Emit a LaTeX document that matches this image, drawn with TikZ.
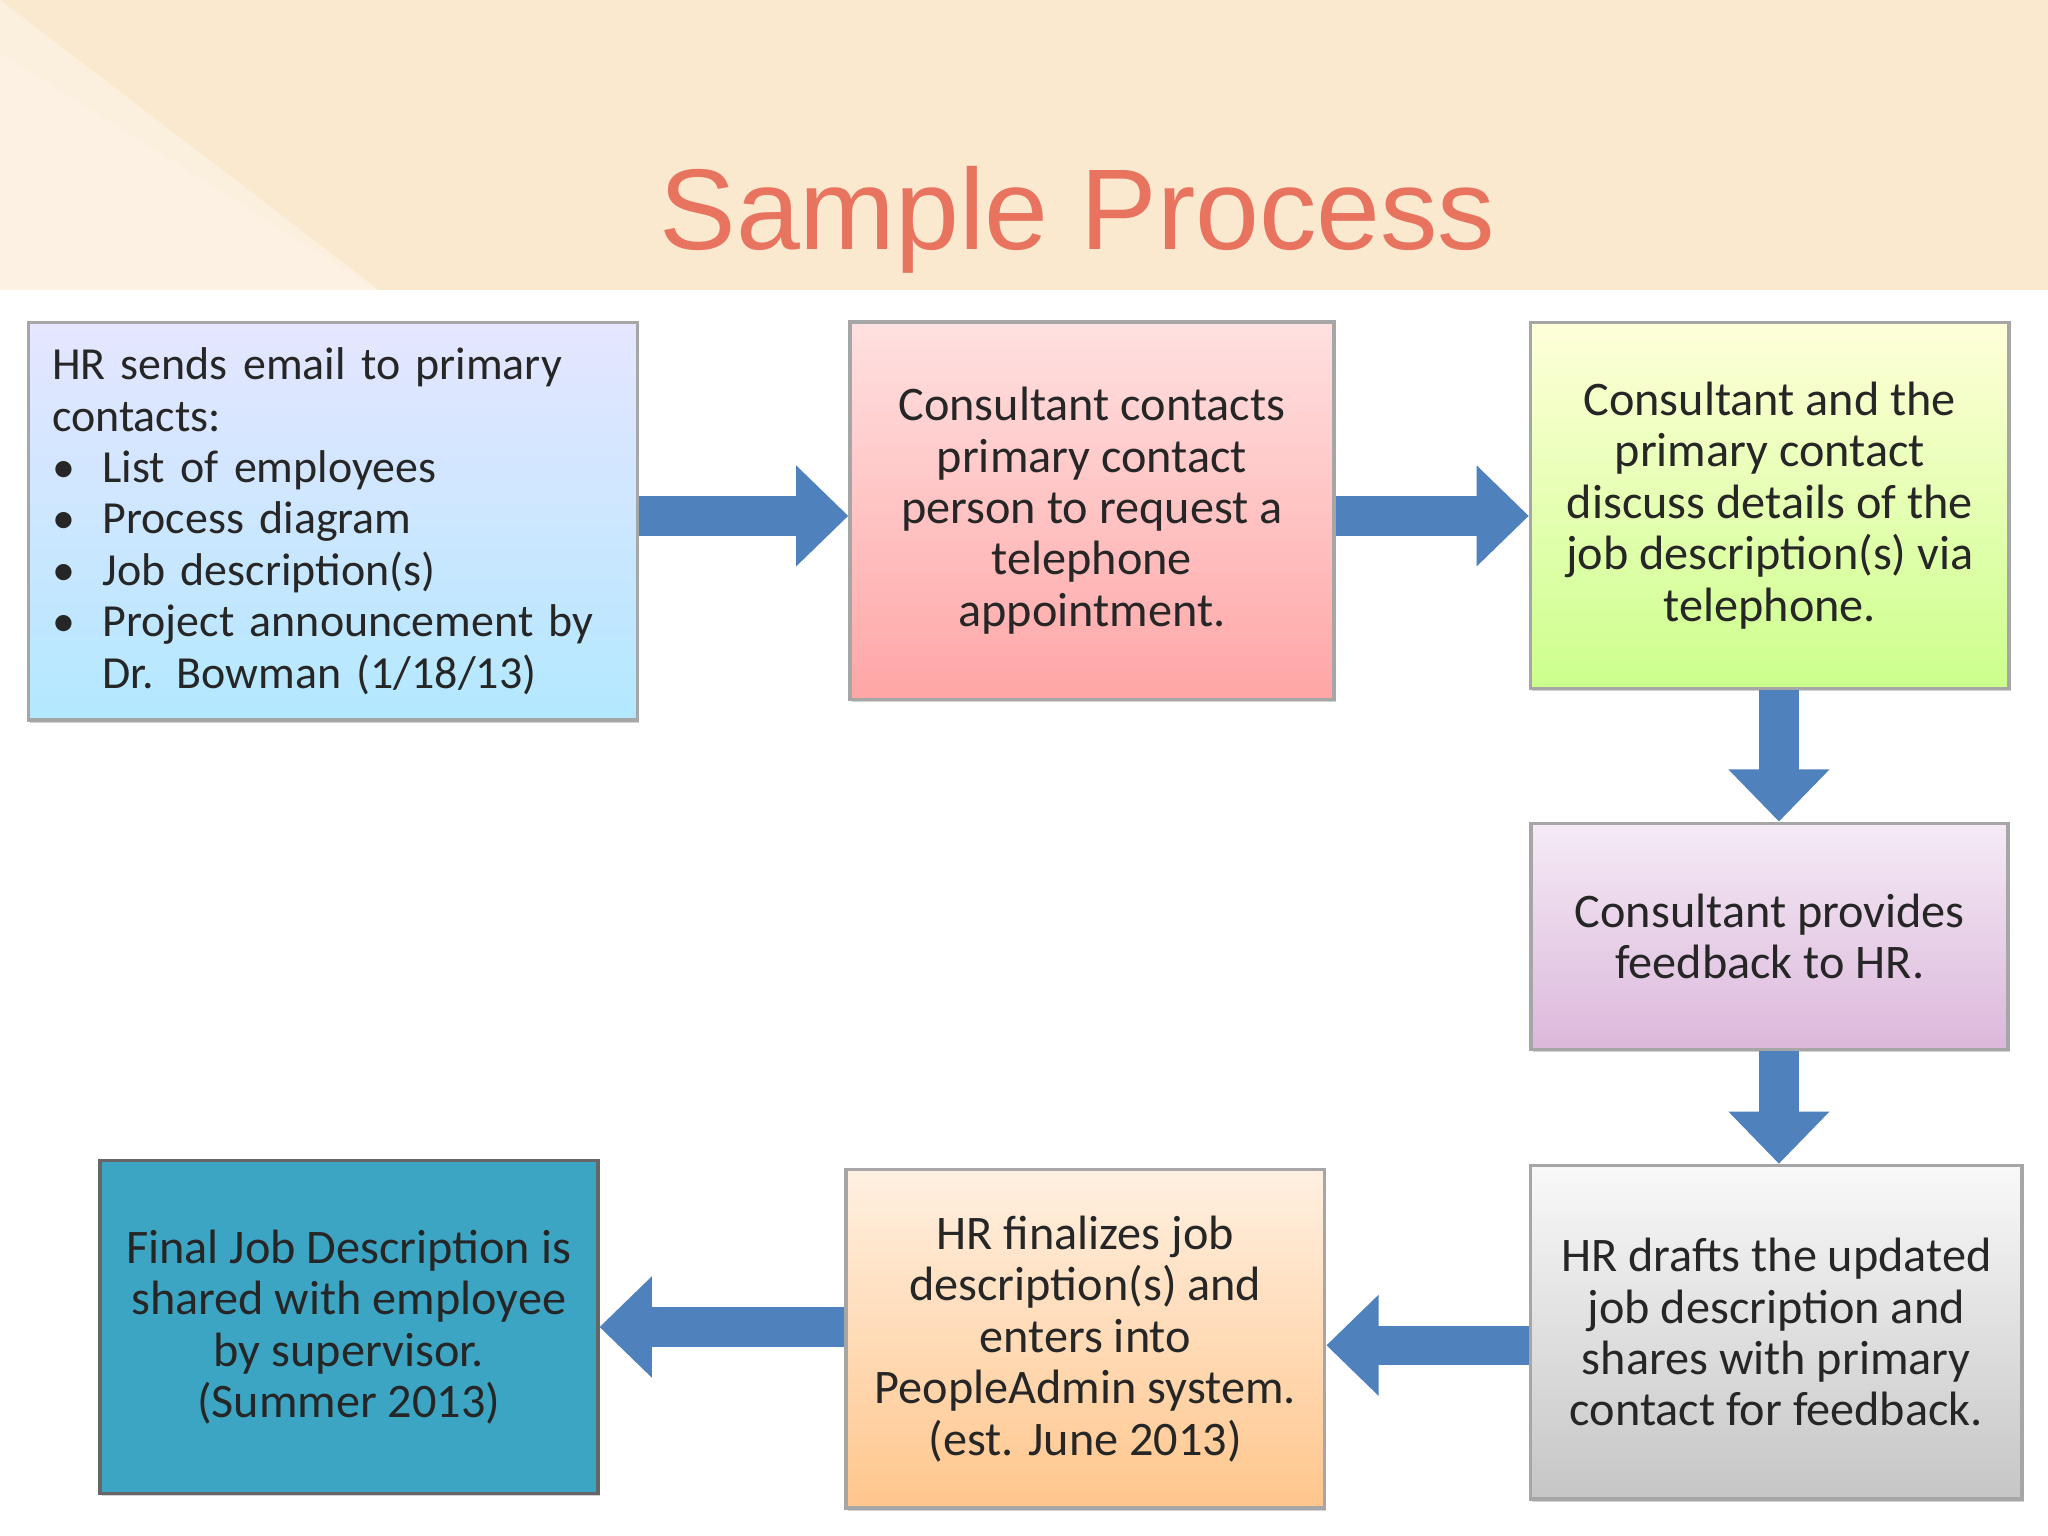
\documentclass[tikz,border=0pt]{standalone}
\usepackage{fontspec}
\setmainfont{Carlito}
\newfontfamily\titlefont{Liberation Sans}
\usetikzlibrary{arrows.meta,shadows}
\definecolor{band}{HTML}{FAE8CF}
\definecolor{bandlight}{HTML}{FCF1E2}
\definecolor{ttl}{HTML}{E8735F}
\definecolor{arr}{HTML}{4F81BD}
\definecolor{teal7}{HTML}{3DA5C4}
\begin{document}
\begin{tikzpicture}[x=0.01cm,y=-0.01cm,
  box/.style={draw=gray!70,line width=0.8pt,inner sep=0pt,align=center,
    font=\fontsize{10.5}{11.2}\selectfont,text=black!85,
    drop shadow={shadow xshift=0.4pt,shadow yshift=-0.6pt,opacity=0.35}},
  blk/.style={arr,draw=arr,line width=0.3cm,-{Triangle[width=0.75cm,length=0.4cm]}}]
\useasboundingbox (0,0) rectangle (1568,1176);
\fill[white] (0,0) rectangle (1568,1176);
\fill[band] (0,0) rectangle (1568,222);
\fill[bandlight] (0,0) -- (290,222) -- (0,222) -- cycle;
\fill[band!70!white] (0,0) -- (0,40) -- (290,222) -- cycle;
\node[font=\titlefont\fontsize{25}{28}\selectfont,text=ttl,draw=none] (title) at (825,168) {Sample Process};
% boxes
\node[box,minimum width=4.66cm,minimum height=3.04cm,top color=blue!10!white,bottom color=blue!30!cyan!30!white,align=left,text width=4.3cm,font=\fontsize{10}{11.2}\selectfont] (b1) at (255,399)
 {HR sends email to primary\\contacts:\\
 \makebox[1.1em][l]{\textbullet}List of employees\\
 \makebox[1.1em][l]{\textbullet}Process diagram\\
 \makebox[1.1em][l]{\textbullet}Job description(s)\\
 \makebox[1.1em][l]{\textbullet}Project announcement by\\
 \hspace*{1.1em}Dr. Bowman (1/18/13)};
\node[box,minimum width=3.7cm,minimum height=2.89cm,top color=red!12!white,bottom color=red!35!white] (b2) at (836,391)
 {Consultant contacts\\primary contact\\person to request a\\telephone\\appointment.};
\node[box,minimum width=3.66cm,minimum height=2.8cm,top color=yellow!15!white,bottom color=green!45!yellow!45!white] (b3) at (1355,387)
 {Consultant and the\\primary contact\\discuss details of the\\job description(s) via\\telephone.};
\node[box,minimum width=3.65cm,minimum height=1.73cm,top color=violet!8!white,bottom color=violet!28!white] (b4) at (1355,717)
 {Consultant provides\\feedback to HR.};
\node[box,minimum width=3.76cm,minimum height=2.55cm,top color=gray!5!white,bottom color=gray!45!white] (b5) at (1360,1020)
 {HR drafts the updated\\job description and\\shares with primary\\contact for feedback.};
\node[box,minimum width=3.66cm,minimum height=2.59cm,top color=orange!12!white,bottom color=orange!45!white] (b6) at (831,1025)
 {HR finalizes job\\description(s) and\\enters into\\PeopleAdmin system.\\(est. June 2013)};
\node[box,draw=black!60,minimum width=3.81cm,minimum height=2.55cm,fill=teal7] (b7) at (267,1016)
 {Final Job Description is\\shared with employee\\by supervisor.\\(Summer 2013)};
% arrows
\draw[blk] ([yshift=0.04cm]b1.east) -- ([yshift=0.04cm]b1.east -| b2.west);
\draw[blk] ([yshift=-0.04cm]b2.east) -- ([yshift=-0.04cm]b2.east -| b3.west);
\draw[blk] ([xshift=0.07cm]b3.south) -- ([xshift=0.07cm]b3.south |- b4.north);
\draw[blk] ([xshift=0.07cm]b4.south) -- ([xshift=0.07cm]b4.south |- b5.north);
\draw[blk] ([yshift=-0.1cm]b5.west) -- ([yshift=-0.1cm]b5.west -| b6.east);
\draw[blk] (b6.west |- b7.east) coordinate (s6) (s6) -- (b7.east);
\end{tikzpicture}
\end{document}
